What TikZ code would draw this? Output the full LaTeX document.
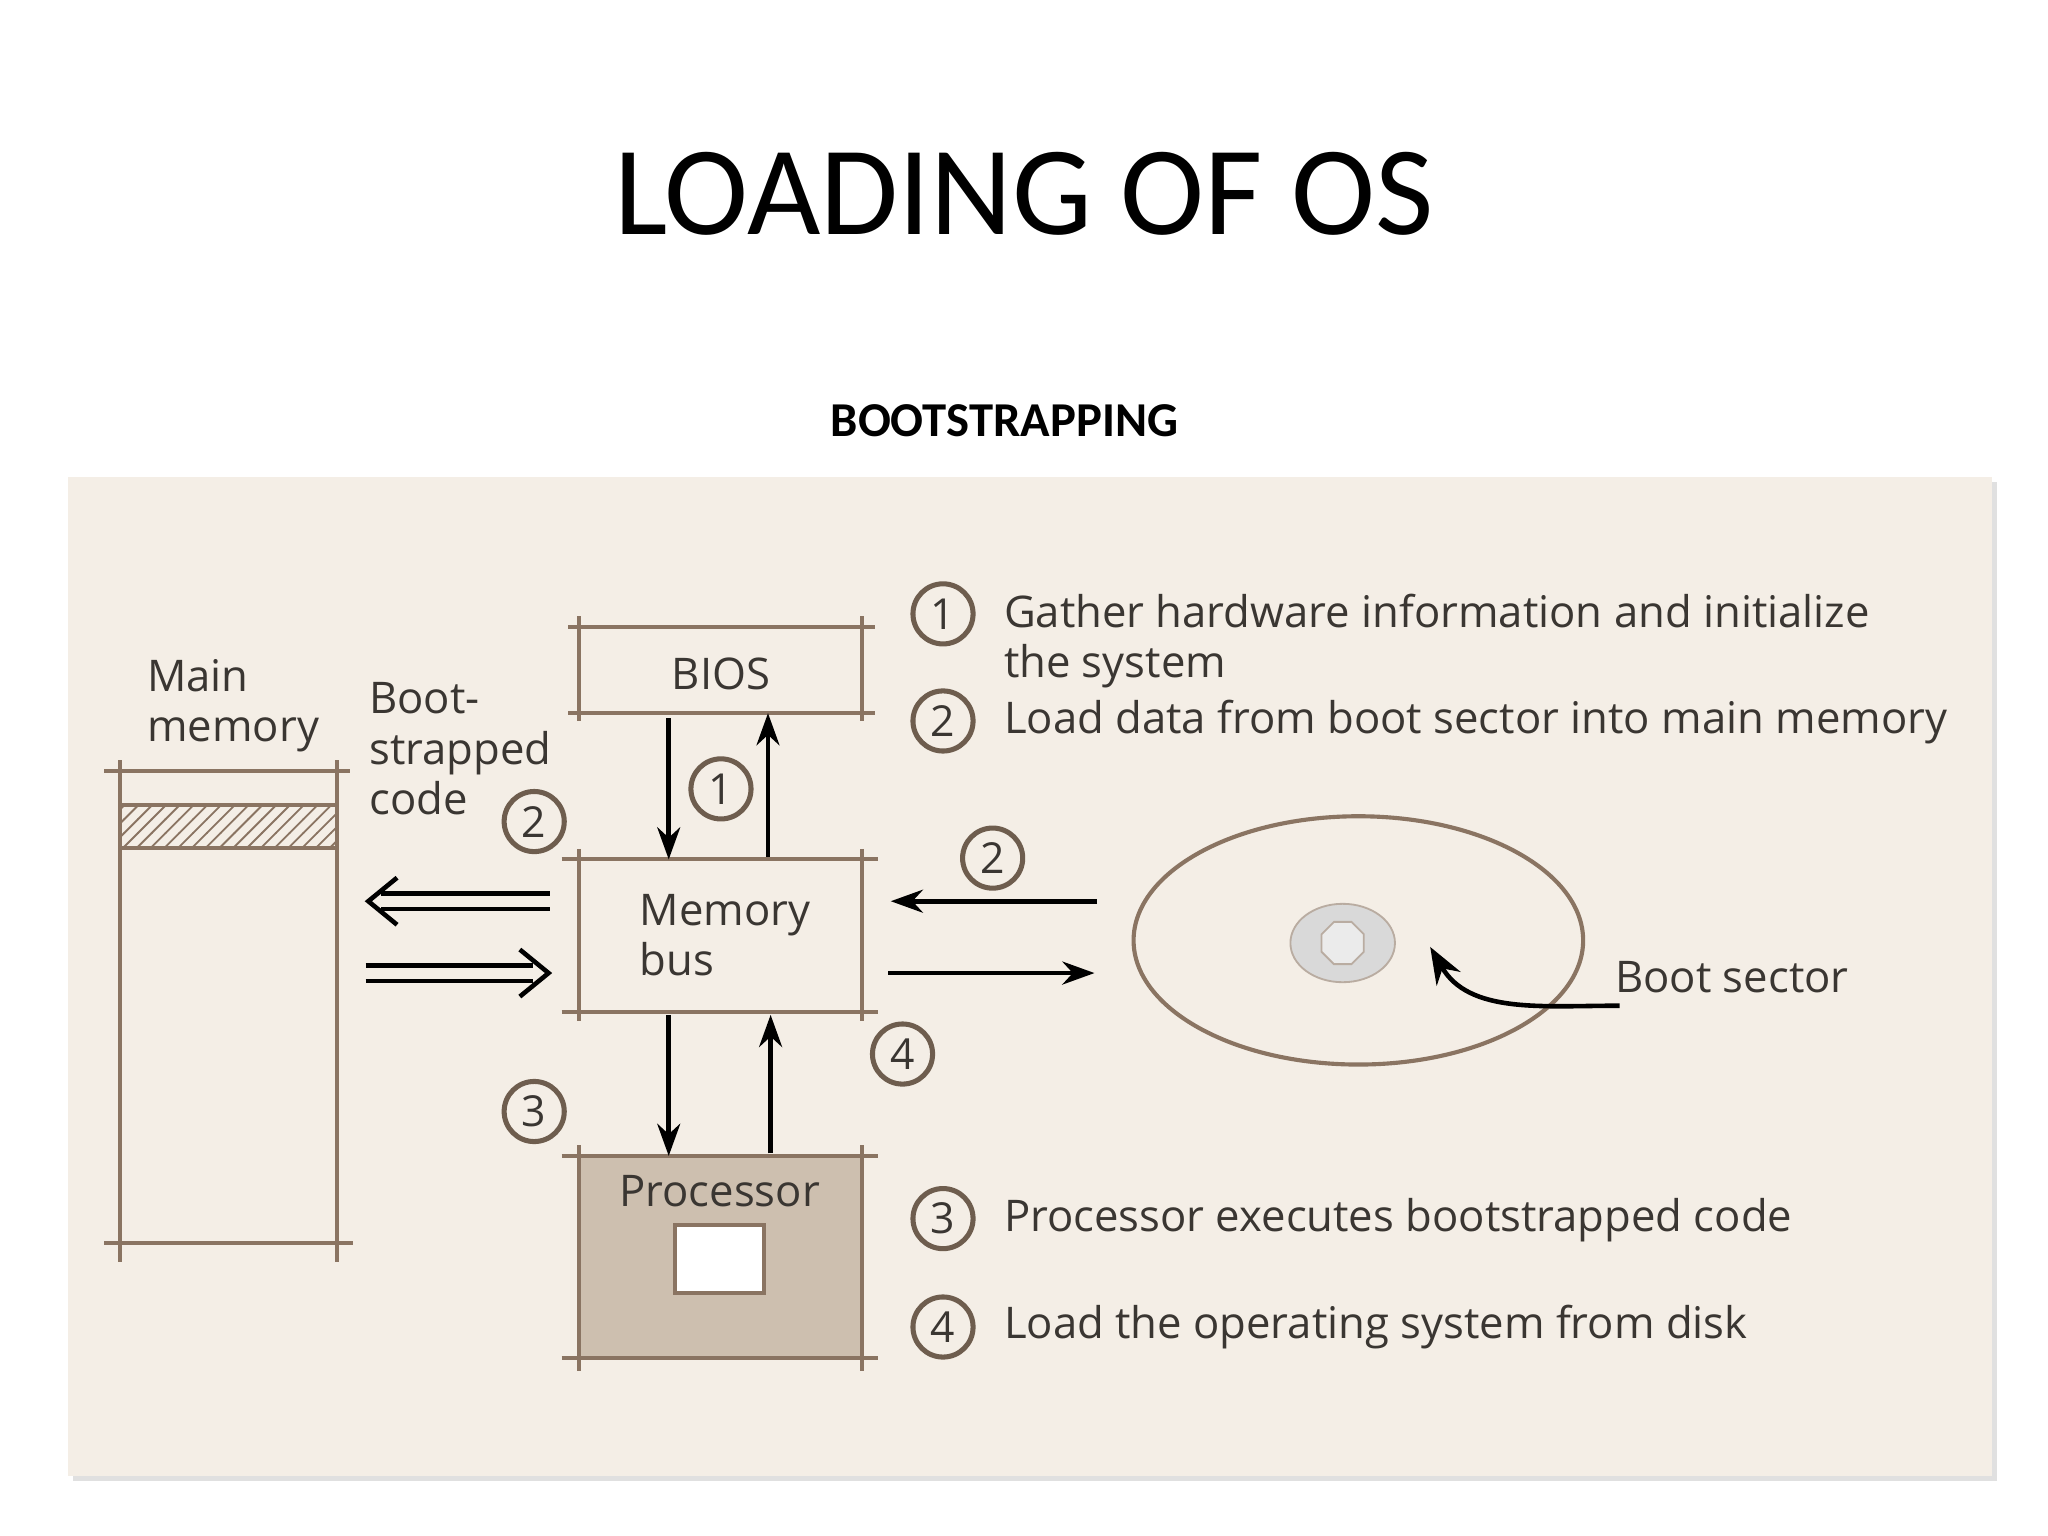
\documentclass[tikz,border=0pt]{standalone}
\usepackage{fontspec}
\setmainfont{Open Sans}
\newfontfamily\titlefont{Carlito}
\usetikzlibrary{patterns,arrows.meta,shapes.geometric}
\definecolor{ln}{HTML}{8A7462}
\definecolor{panel}{HTML}{F4EEE6}
\definecolor{proc}{HTML}{CDBFAF}
\definecolor{tx}{HTML}{3A3632}
\tikzset{
 lbl/.style={text=tx,font=\fontsize{9.5}{11}\selectfont,align=left,inner sep=0},
 num/.style={circle,draw=ln!80!black,line width=1.1pt,minimum size=0.46cm,inner sep=0,text=tx,font=\fontsize{9.3}{10}\selectfont},
 boxl/.style={draw=ln,line width=0.9pt},
 arr/.style={draw=black,line width=1pt,-{Stealth[length=7pt,width=5pt]}},
}
\begin{document}
\begin{tikzpicture}[x=0.01cm,y=-0.01cm]
\useasboundingbox (0,0) rectangle (1568,1176);
\node (title) at (784,148) {\titlefont\fontsize{27.6}{30}\selectfont LOADING OF OS};
\node (sub) at (769,322) {\titlefont\bfseries\fontsize{10.6}{12}\selectfont BOOTSTRAPPING};
% panel
\fill[black!12] (56,369) rectangle (1529,1134);
\fill[panel] (52,365) rectangle (1525,1130);
% main memory
\draw[boxl] (80,590) -- (268,590);
\draw[boxl] (80,952) -- (270,952);
\draw[boxl] (92,582) -- (92,966);
\draw[boxl] (258,582) -- (258,966);
\node[boxl,pattern=north east lines,pattern color=ln,minimum width=1.66cm,minimum height=0.33cm,inner sep=0] (hatch) at (175,633) {};
\node[lbl,anchor=north west] (mm) at (112,504) {Main\\memory};
\node[lbl,anchor=north west] (bc) at (282,522) {Boot-\\strapped\\code};
% BIOS
\draw[boxl] (435,480) -- (670,480); \draw[boxl] (435,546) -- (670,546);
\draw[boxl] (443,472) -- (443,552); \draw[boxl] (660,472) -- (660,552);
\node[lbl] (bios) at (552,516) {BIOS};
% Memory bus
\draw[boxl] (430,658) -- (672,658); \draw[boxl] (430,775) -- (672,775);
\draw[boxl] (443,650) -- (443,782); \draw[boxl] (660,650) -- (660,782);
\node[lbl,anchor=north west] (mb) at (489,684) {Memory\\bus};
% Processor
\fill[proc] (443,885) rectangle (660,1040);
\draw[boxl] (430,885) -- (672,885); \draw[boxl] (430,1040) -- (672,1040);
\draw[boxl] (443,877) -- (443,1050); \draw[boxl] (660,877) -- (660,1050);
\draw[boxl,fill=white] (517,938) rectangle (585,990);
\node[lbl] (proc) at (551,912) {Processor};
% vertical arrows
\coordinate (b1) at (512,550); \coordinate (b2) at (512,658);
\draw[arr] (b1) -- (b2);
\coordinate (b3) at (588,656); \coordinate (b4) at (588,546);
\draw[arr] (b3) -- (b4);
\coordinate (p1) at (512,777); \coordinate (p2) at (512,885);
\draw[arr] (p1) -- (p2);
\coordinate (p3) at (590,883); \coordinate (p4) at (590,777);
\draw[arr] (p3) -- (p4);
\node[num] (n1) at (552,604) {1};
\node[num] (n2a) at (409,629) {2};
\node[num] (n3) at (409,851) {3};
\node[num] (n4) at (691,807) {4};
\node[num] (n2b) at (760,657) {2};
% hollow double arrows
\draw[line width=1pt] (421,684) -- (292,684) (421,696) -- (292,696);
\draw[line width=1pt] (304,672) -- (282,690) -- (304,708);
\draw[line width=1pt] (280,739) -- (408,739) (280,751) -- (408,751);
\draw[line width=1pt] (398,727) -- (420,745) -- (398,763);
% disk arrows
\coordinate (d1) at (840,690); \coordinate (d2) at (682,690);
\draw[arr] (d1) -- (d2);
\coordinate (d3) at (680,745); \coordinate (d4) at (838,745);
\draw[arr] (d3) -- (d4);
% disk
\node[ellipse,draw=ln,line width=0.9pt,minimum width=3.44cm,minimum height=1.9cm] (disk) at (1040,720) {};
\node[ellipse,draw=ln!60,fill=black!15,minimum width=0.8cm,minimum height=0.6cm] (hub) at (1028,722) {};
\node[regular polygon,regular polygon sides=8,draw=ln!60,fill=black!8,minimum size=0.35cm,inner sep=0] (oct) at (1028,722) {};
\node[lbl,anchor=west] (bs) at (1236,748) {Boot sector};
\draw[line width=1pt,-{Stealth[length=8pt,width=6pt]}] (1240,770) to[out=180,in=-60] (1095,725);
% legend
\node[num] (l1) at (722,470) {1};
\node[lbl,anchor=north west] (t1) at (768,454) {Gather hardware information and initialize\\the system};
\node[num] (l2) at (722,552) {2};
\node[lbl,anchor=west] (t2) at (768,553) {Load data from boot sector into main memory};
\node[num] (l3) at (722,933) {3};
\node[lbl,anchor=west] (t3) at (768,934) {Processor executes bootstrapped code};
\node[num] (l4) at (722,1016) {4};
\node[lbl,anchor=west] (t4) at (768,1016) {Load the operating system from disk};
\end{tikzpicture}
\end{document}
